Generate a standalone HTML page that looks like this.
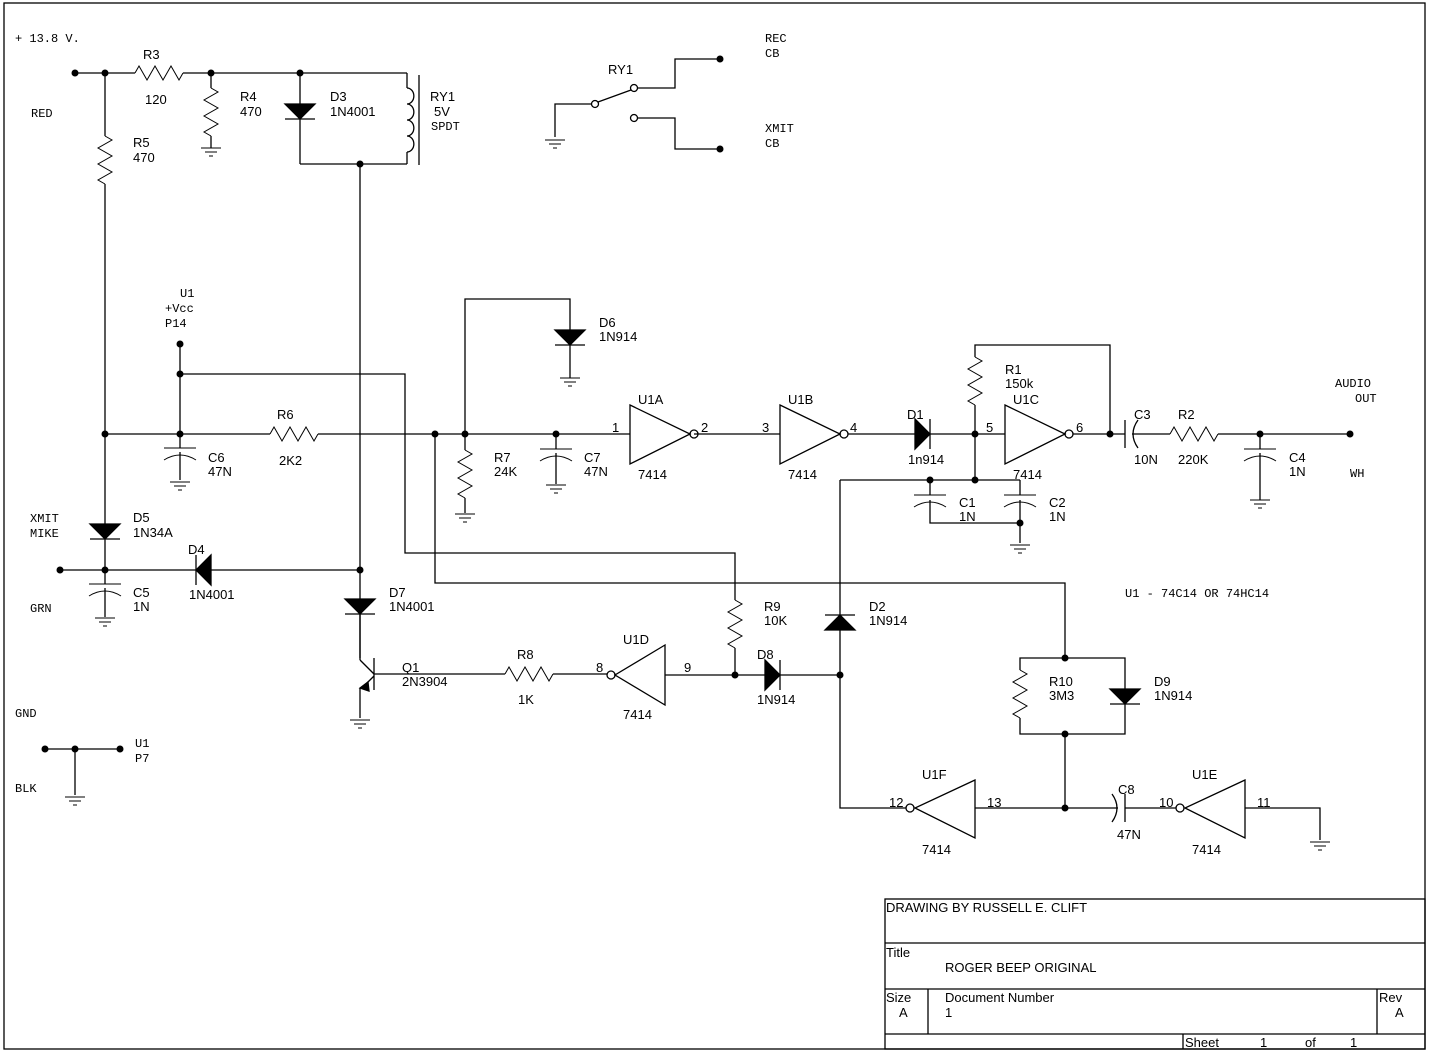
<!DOCTYPE html>
<html><head><meta charset="utf-8"><style>
html,body{margin:0;padding:0;background:#fff}
svg{display:block}
.s{font-family:"Liberation Sans",sans-serif;font-size:13px}
.m{font-family:"Liberation Mono",monospace;font-size:12px}
</style></head><body>
<svg width="1429" height="1053" viewBox="0 0 1429 1053" xmlns="http://www.w3.org/2000/svg">
<defs>
<g id="gnd" stroke="#000" fill="none"><line x1="-10" y1="0" x2="10" y2="0"/><line x1="-6" y1="4" x2="6" y2="4"/><line x1="-2" y1="8" x2="2" y2="8"/></g>
<polyline id="rv" points="0,0 7,4 -7,12 7,20 -7,28 7,36 -7,44 0,48" fill="none" stroke="#000"/>
<polyline id="rh" points="0,0 4,-7 12,7 20,-7 28,7 36,-7 44,7 48,0" fill="none" stroke="#000"/>
<circle id="d" r="3.5" fill="#000"/>
<g id="capv" stroke="#000" fill="none"><line x1="-16" y1="0" x2="16" y2="0"/><path d="M-16,12 Q0,2 16,12"/></g>
</defs>
<g stroke="#000" stroke-width="1.3" fill="none">
<rect x="4" y="3" width="1421" height="1046"/>
<rect x="885" y="899" width="540" height="150"/>
<line x1="885" y1="943" x2="1425" y2="943"/>
<line x1="885" y1="989" x2="1425" y2="989"/>
<line x1="885" y1="1034" x2="1425" y2="1034"/>
<line x1="928" y1="989" x2="928" y2="1034"/>
<line x1="1377" y1="989" x2="1377" y2="1034"/>
<line x1="1183" y1="1034" x2="1183" y2="1049"/>

<line x1="75" y1="73" x2="135" y2="73"/><line x1="183" y1="73" x2="407" y2="73"/>
<line x1="407" y1="73" x2="407" y2="88"/>
<path d="M407,88 a6,7 0 0 1 0,16 a6,7 0 0 1 0,16 a6,7 0 0 1 0,16 a6,7 0 0 1 0,16"/>
<line x1="407" y1="152" x2="407" y2="164"/>
<line x1="419" y1="75" x2="419" y2="165"/>
<line x1="300" y1="164" x2="407" y2="164"/>
<line x1="300" y1="73" x2="300" y2="164"/>
<line x1="211" y1="73" x2="211" y2="88"/><line x1="211" y1="136" x2="211" y2="148"/>
<line x1="105" y1="73" x2="105" y2="136"/><line x1="105" y1="184" x2="105" y2="570"/><line x1="105" y1="570" x2="105" y2="584"/>
<line x1="360" y1="164" x2="360" y2="658"/>

<polyline points="555,137 555,104 592,104"/>
<line x1="598" y1="102" x2="631" y2="90"/>
<polyline points="638,88 675,88 675,59 720,59"/>
<polyline points="638,118 675,118 675,149 720,149"/>

<line x1="105" y1="434" x2="270" y2="434"/><line x1="318" y1="434" x2="630" y2="434"/>
<line x1="180" y1="344" x2="180" y2="448"/><line x1="180" y1="452" x2="180" y2="480"/>
<polyline points="180,374 405,374 405,553 735,553 735,600"/><line x1="735" y1="648" x2="735" y2="675"/>
<polyline points="435,434 435,583 1065,583 1065,658"/>
<polyline points="465,434 465,299 570,299 570,378"/>
<line x1="465" y1="434" x2="465" y2="450"/><line x1="465" y1="498" x2="465" y2="513"/>
<line x1="556" y1="434" x2="556" y2="449"/><line x1="556" y1="453" x2="556" y2="484"/>
<line x1="694" y1="434" x2="780" y2="434"/>
<line x1="848" y1="434" x2="1005" y2="434"/>
<polyline points="975,434 975,405"/><polyline points="975,357 975,345 1110,345 1110,434"/>
<line x1="1073" y1="434" x2="1125" y2="434"/>
<line x1="1132" y1="434" x2="1170" y2="434"/><line x1="1218" y1="434" x2="1350" y2="434"/>
<line x1="1260" y1="434" x2="1260" y2="449"/><line x1="1260" y1="453" x2="1260" y2="500"/>
<line x1="975" y1="434" x2="975" y2="480"/>
<line x1="840" y1="480" x2="1020" y2="480"/>
<line x1="930" y1="480" x2="930" y2="495"/><polyline points="930,500 930,523 1020,523"/>
<line x1="1020" y1="480" x2="1020" y2="495"/><line x1="1020" y1="500" x2="1020" y2="543"/>
<polyline points="840,480 840,808 906,808"/>

<line x1="60" y1="570" x2="360" y2="570"/>
<line x1="105" y1="588" x2="105" y2="617"/>
<line x1="360" y1="614" x2="360" y2="660"/>
<line x1="360" y1="660" x2="374" y2="674"/>
<line x1="374" y1="658" x2="374" y2="690"/>
<line x1="374" y1="676" x2="362" y2="688"/>
<line x1="360" y1="688" x2="360" y2="718"/>
<line x1="374" y1="674" x2="505" y2="674"/><line x1="553" y1="674" x2="607" y2="674"/>
<line x1="665" y1="675" x2="840" y2="675"/>

<polyline points="1020,670 1020,658 1125,658 1125,734 1020,734 1020,718"/>
<line x1="1065" y1="734" x2="1065" y2="808"/>
<line x1="975" y1="808" x2="1118" y2="808"/>
<line x1="1125" y1="808" x2="1176" y2="808"/>
<polyline points="1245,808 1320,808 1320,840"/>
<line x1="45" y1="749" x2="120" y2="749"/><line x1="75" y1="749" x2="75" y2="795"/>

<polygon points="630,405 690,434 630,464"/><circle cx="694" cy="434" r="4"/>
<polygon points="780,405 840,434 780,464"/><circle cx="844" cy="434" r="4"/>
<polygon points="1005,405 1065,434 1005,464"/><circle cx="1069" cy="434" r="4"/>
<polygon points="665,645 615,675 665,705"/><circle cx="611" cy="675" r="4"/>
<polygon points="975,780 915,808 975,838"/><circle cx="910" cy="808" r="4"/>
<polygon points="1245,780 1185,808 1245,838"/><circle cx="1180" cy="808" r="4"/>
<circle cx="595" cy="104" r="3.5" fill="#fff"/><circle cx="634" cy="88" r="3.5" fill="#fff"/><circle cx="634" cy="118" r="3.5" fill="#fff"/>
<line x1="1125" y1="420" x2="1125" y2="448"/><path d="M1138,420 Q1128,434 1138,448"/>
<line x1="1125" y1="794" x2="1125" y2="822"/><path d="M1112,794 Q1122,808 1112,822"/>
</g>
<use href="#rh" x="135" y="73"/><use href="#rv" x="211" y="88"/><use href="#rv" x="105" y="136"/>
<use href="#rh" x="270" y="434"/><use href="#rv" x="465" y="450"/><use href="#rv" x="975" y="357"/>
<use href="#rh" x="1170" y="434"/><use href="#rv" x="735" y="600"/><use href="#rh" x="505" y="674"/><use href="#rv" x="1020" y="670"/>
<use href="#capv" x="180" y="448"/><use href="#capv" x="556" y="449"/><use href="#capv" x="1260" y="449"/>
<use href="#capv" x="930" y="495"/><use href="#capv" x="1020" y="495"/><use href="#capv" x="105" y="584"/>
<use href="#gnd" x="211" y="148"/><use href="#gnd" x="555" y="140"/><use href="#gnd" x="180" y="482"/><use href="#gnd" x="465" y="514"/>
<use href="#gnd" x="570" y="378"/><use href="#gnd" x="556" y="485"/><use href="#gnd" x="1260" y="500"/><use href="#gnd" x="1020" y="545"/>
<use href="#gnd" x="105" y="618"/><use href="#gnd" x="360" y="720"/><use href="#gnd" x="75" y="797"/><use href="#gnd" x="1320" y="842"/>
<g fill="#000" stroke="#000" stroke-width="1.3">
<polygon points="285,104 315,104 300,119"/><line x1="285" y1="119" x2="315" y2="119"/>
<polygon points="555,330 585,330 570,345"/><line x1="555" y1="345" x2="585" y2="345"/>
<polygon points="90,524 120,524 105,539"/><line x1="90" y1="539" x2="120" y2="539"/>
<polygon points="345,599 375,599 360,614"/><line x1="345" y1="614" x2="375" y2="614"/>
<polygon points="1110,689 1140,689 1125,704"/><line x1="1110" y1="704" x2="1140" y2="704"/>
<polygon points="825,630 855,630 840,615"/><line x1="825" y1="615" x2="855" y2="615"/>
<polygon points="211,555 211,585 196,570"/><line x1="196" y1="555" x2="196" y2="585"/>
<polygon points="915,419 915,449 930,434"/><line x1="930" y1="419" x2="930" y2="449"/>
<polygon points="765,660 765,690 780,675"/><line x1="780" y1="660" x2="780" y2="690"/>
<polygon points="360,688 368,682 369,691" />
</g>
<g>
<use href="#d" x="75" y="73"/><use href="#d" x="105" y="73"/><use href="#d" x="211" y="73"/><use href="#d" x="300" y="73"/><use href="#d" x="360" y="164"/>
<use href="#d" x="720" y="59"/><use href="#d" x="720" y="149"/>
<use href="#d" x="180" y="344"/><use href="#d" x="180" y="374"/>
<use href="#d" x="105" y="434"/><use href="#d" x="180" y="434"/><use href="#d" x="435" y="434"/><use href="#d" x="465" y="434"/><use href="#d" x="556" y="434"/>
<use href="#d" x="975" y="434"/><use href="#d" x="1110" y="434"/><use href="#d" x="1260" y="434"/><use href="#d" x="1350" y="434"/>
<use href="#d" x="930" y="480"/><use href="#d" x="975" y="480"/><use href="#d" x="1020" y="523"/>
<use href="#d" x="60" y="570"/><use href="#d" x="105" y="570"/><use href="#d" x="360" y="570"/>
<use href="#d" x="735" y="675"/><use href="#d" x="840" y="675"/>
<use href="#d" x="1065" y="658"/><use href="#d" x="1065" y="734"/><use href="#d" x="1065" y="808"/>
<use href="#d" x="45" y="749"/><use href="#d" x="75" y="749"/><use href="#d" x="120" y="749"/>
</g>
<g class="m">
<text x="15" y="42">+ 13.8 V.</text><text x="31" y="117">RED</text>
<text x="431" y="130">SPDT</text>
<text x="765" y="42">REC</text><text x="765" y="57">CB</text><text x="765" y="132">XMIT</text><text x="765" y="147">CB</text>
<text x="180" y="297">U1</text><text x="165" y="312">+Vcc</text><text x="165" y="327">P14</text>
<text x="30" y="522">XMIT</text><text x="30" y="537">MIKE</text><text x="30" y="612">GRN</text>
<text x="15" y="717">GND</text><text x="15" y="792">BLK</text>
<text x="135" y="747">U1</text><text x="135" y="762">P7</text>
<text x="1335" y="387">AUDIO</text><text x="1355" y="402">OUT</text><text x="1350" y="477">WH</text>
<text x="1125" y="597">U1 - 74C14 OR 74HC14</text>
</g>
<g class="s">
<text x="143" y="59">R3</text><text x="145" y="104">120</text>
<text x="240" y="101">R4</text><text x="240" y="116">470</text>
<text x="330" y="101">D3</text><text x="330" y="116">1N4001</text>
<text x="430" y="101">RY1</text><text x="434" y="116">5V</text>
<text x="133" y="147">R5</text><text x="133" y="162">470</text>
<text x="608" y="74">RY1</text>
<text x="599" y="327">D6</text><text x="599" y="341">1N914</text>
<text x="208" y="462">C6</text><text x="208" y="476">47N</text>
<text x="277" y="419">R6</text><text x="279" y="465">2K2</text>
<text x="494" y="462">R7</text><text x="494" y="476">24K</text>
<text x="584" y="462">C7</text><text x="584" y="476">47N</text>
<text x="638" y="404">U1A</text><text x="612" y="432">1</text><text x="701" y="432">2</text><text x="638" y="479">7414</text>
<text x="788" y="404">U1B</text><text x="762" y="432">3</text><text x="850" y="432">4</text><text x="788" y="479">7414</text>
<text x="907" y="419">D1</text><text x="908" y="464">1n914</text>
<text x="1005" y="374">R1</text><text x="1005" y="388">150k</text>
<text x="1013" y="404">U1C</text><text x="986" y="432">5</text><text x="1076" y="432">6</text><text x="1013" y="479">7414</text>
<text x="1134" y="419">C3</text><text x="1134" y="464">10N</text>
<text x="1178" y="419">R2</text><text x="1178" y="464">220K</text>
<text x="1289" y="462">C4</text><text x="1289" y="476">1N</text>
<text x="959" y="507">C1</text><text x="959" y="521">1N</text>
<text x="1049" y="507">C2</text><text x="1049" y="521">1N</text>
<text x="133" y="522">D5</text><text x="133" y="537">1N34A</text>
<text x="188" y="554">D4</text><text x="189" y="599">1N4001</text>
<text x="133" y="597">C5</text><text x="133" y="611">1N</text>
<text x="389" y="597">D7</text><text x="389" y="611">1N4001</text>
<text x="402" y="672">Q1</text><text x="402" y="686">2N3904</text>
<text x="517" y="659">R8</text><text x="518" y="704">1K</text>
<text x="623" y="644">U1D</text><text x="596" y="672">8</text><text x="684" y="672">9</text><text x="623" y="719">7414</text>
<text x="764" y="611">R9</text><text x="764" y="625">10K</text>
<text x="757" y="659">D8</text><text x="757" y="704">1N914</text>
<text x="869" y="611">D2</text><text x="869" y="625">1N914</text>
<text x="1049" y="686">R10</text><text x="1049" y="700">3M3</text>
<text x="1154" y="686">D9</text><text x="1154" y="700">1N914</text>
<text x="922" y="779">U1F</text><text x="889" y="807">12</text><text x="987" y="807">13</text><text x="922" y="854">7414</text>
<text x="1118" y="794">C8</text><text x="1117" y="839">47N</text>
<text x="1192" y="779">U1E</text><text x="1159" y="807">10</text><text x="1257" y="807">11</text><text x="1192" y="854">7414</text>
<text x="886" y="912">DRAWING BY RUSSELL E. CLIFT</text>
<text x="886" y="957">Title</text><text x="945" y="972">ROGER BEEP ORIGINAL</text>
<text x="886" y="1002">Size</text><text x="899" y="1017">A</text>
<text x="945" y="1002">Document Number</text><text x="945" y="1017">1</text>
<text x="1379" y="1002">Rev</text><text x="1395" y="1017">A</text>
<text x="1185" y="1047">Sheet</text><text x="1260" y="1047">1</text><text x="1305" y="1047">of</text><text x="1350" y="1047">1</text>
</g>
</svg>
</body></html>
